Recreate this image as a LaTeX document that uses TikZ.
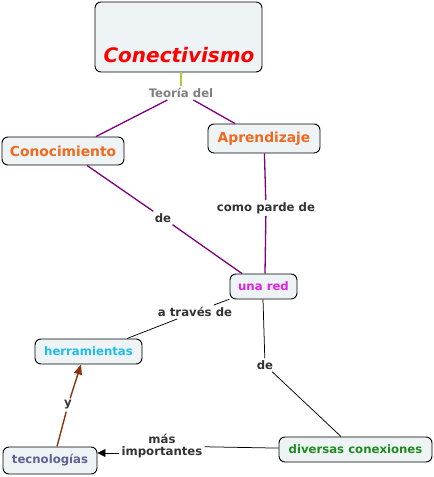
\documentclass[tikz,border=0pt]{standalone}
\usepackage{fontspec}
\setmainfont{DejaVu Sans}
\usetikzlibrary{arrows.meta}
\definecolor{boxfill}{HTML}{EEF3F5}
\definecolor{corange}{HTML}{F06A1E}
\definecolor{cmag}{HTML}{E022E0}
\definecolor{ccyan}{HTML}{1FBDEE}
\definecolor{cgreen}{HTML}{1E8C1E}
\definecolor{cslate}{HTML}{5E6294}
\definecolor{lbl}{HTML}{333333}
\definecolor{lblgray}{HTML}{808080}
\definecolor{cpurple}{HTML}{800080}
\definecolor{cyellow}{HTML}{B4C832}
\definecolor{cbrown}{HTML}{8B3410}
\begin{document}
\begin{tikzpicture}[x=1pt,y=-1pt,
  concept/.style={draw=black,fill=boxfill,rounded corners=6pt,line width=0.9pt,inner sep=0pt,font=\bfseries\fontsize{11.7}{13}\selectfont},
  linklbl/.style={inner sep=2pt,font=\bfseries\fontsize{11.7}{13}\selectfont,text=lbl},
  pline/.style={draw=cpurple,line width=1.3pt},
  bline/.style={draw=black,line width=0.75pt},
]
\useasboundingbox (0,0) rectangle (434,477);
% concepts
\node[concept,minimum width=167,minimum height=70] (con) at (178.5,37) {};
\node[inner sep=0pt,font=\bfseries\itshape\fontsize{20}{24}\selectfont,text=red] (contxt) at (179,55) {Conectivismo};
\node[concept,minimum width=122,minimum height=28,text=corange,font=\bfseries\fontsize{13.8}{16}\selectfont] (cono) at (63,151) {Conocimiento};
\node[concept,minimum width=112,minimum height=29,text=corange,font=\bfseries\fontsize{13.8}{16}\selectfont] (apre) at (264,138.5) {Aprendizaje};
\node[concept,minimum width=67,minimum height=25,text=cmag] (red) at (263.5,286.5) {una red};
\node[concept,minimum width=107,minimum height=25,text=ccyan] (herr) at (88.5,351.5) {herramientas};
\node[concept,minimum width=153,minimum height=25,text=cgreen] (div) at (355.5,449.5) {diversas conexiones};
\node[concept,minimum width=94,minimum height=27,text=cslate] (tec) at (50,460.5) {tecnologías};
% link labels
\node[linklbl,text=lblgray] (teo) at (181,93) {Teoría del};
\node[linklbl] (de1) at (163,218) {de};
\node[linklbl] (como) at (266,208) {como parde de};
\node[linklbl] (atr) at (195,312) {a través de};
\node[linklbl] (de2) at (265,365) {de};
\node[linklbl,align=center,font=\bfseries\fontsize{11.7}{12.5}\selectfont] (mas) at (162,446) {más\\importantes};
\node[linklbl] (y) at (68,405) {y};
% connectors
\draw[draw=cyellow,line width=1.2pt] (con.south -| teo) -- (teo);
\draw[pline] (teo) -- (cono.north -| 96,0);
\draw[pline] (teo) -- (apre.north -| 235,0);
\draw[pline] (cono.south -| 87,0) -- (de1);
\draw[pline] (de1) -- (red.north -| 242,0);
\draw[pline] (apre) -- (como);
\draw[pline] (como) -- (red.north -| 265,0);
\draw[bline] (red) -- (atr);
\draw[bline] (atr) -- (herr.north -| 127,0);
\draw[bline] (red.south -| 263,0) -- (de2);
\draw[bline] (de2) -- (div.north -| 341,0);
\draw[bline] (div) -- (mas);
\draw[bline,-{Triangle[length=8pt,width=8pt]}] (mas.west |- 0,453) -- (tec.east |- 0,453);
\draw[draw=cbrown,line width=1.4pt] (tec.north -| 57,0) -- (y);
\draw[draw=cbrown,line width=1.4pt,-{Triangle[length=10pt,width=8pt]}] (y) -- (herr.south -| 81,0);
\end{tikzpicture}
\end{document}
